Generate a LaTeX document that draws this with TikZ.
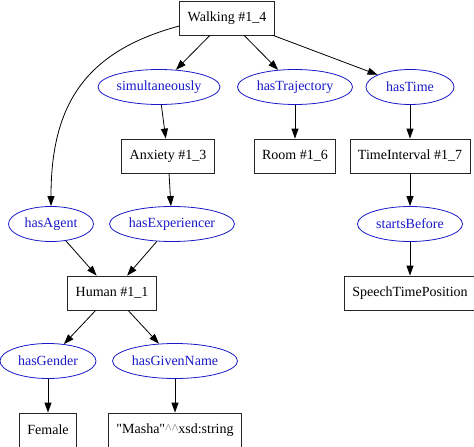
\documentclass[tikz,border=0pt]{standalone}
\usepackage{fontspec}
\setmainfont{Liberation Serif}
\usetikzlibrary{arrows.meta,shapes.geometric}
\definecolor{propblue}{RGB}{25,25,200}
\begin{document}
\begin{tikzpicture}[x=1pt,y=-1pt,line width=0.8pt,
        every node/.style={font=\rmfamily\fontsize{14}{16}\selectfont},
        cls/.style={draw=black!85,rectangle,minimum height=34pt,inner xsep=8pt},
        prop/.style={draw=propblue,text=propblue,ellipse,minimum height=35pt,inner sep=0pt},
        edge/.style={-{Triangle[length=10pt,width=7pt]},black}]
        \useasboundingbox (0,0) rectangle (474,447);
        % classes
        \node[cls] (walk) at (227,18) {Walking \#1\_4};
        \node[cls] (anx) at (168,156) {Anxiety \#1\_3};
        \node[cls] (room) at (295,156) {Room \#1\_6};
        \node[cls] (tint) at (410,156) {TimeInterval \#1\_7};
        \node[cls] (human) at (112,293) {Human \#1\_1};
        \node[cls] (speech) at (410,293) {SpeechTimePosition};
        \node[cls] (female) at (48,430) {Female};
        \node[cls] (masha) at (175,430) {\textquotedbl Masha\textquotedbl\textcolor{gray}{\textasciicircum\textasciicircum}xsd:string};
        % properties
        \node[prop,minimum width=122pt] (simul) at (159,87) {simultaneously};
        \node[prop,minimum width=115pt] (traj) at (295,87) {hasTrajectory};
        \node[prop,minimum width=88pt] (time) at (410,87) {hasTime};
        \node[prop,minimum width=85pt] (agent) at (51,224) {hasAgent};
        \node[prop,minimum width=125pt] (exper) at (172,224) {hasExperiencer};
        \node[prop,minimum width=105pt] (starts) at (410,224) {startsBefore};
        \node[prop,minimum width=96pt] (gender) at (48,361) {hasGender};
        \node[prop,minimum width=125pt] (given) at (175,361) {hasGivenName};
        % edges
        \draw[edge] ([yshift=-8pt]walk.west) to[out=195,in=90,looseness=1.15] (agent);
        \draw[edge] (walk) -- (simul);
        \draw[edge] (walk) -- (traj);
        \draw[edge] (walk) -- (time);
        \draw[edge] (simul) -- (anx);
        \draw[edge] (traj) -- (room);
        \draw[edge] (time) -- (tint);
        \draw[edge] (anx) -- (exper);
        \draw[edge] (tint) -- (starts);
        \draw[edge] (starts) -- (speech);
        \draw[edge] (agent) -- (human);
        \draw[edge] (exper) -- (human);
        \draw[edge] (human) -- (gender);
        \draw[edge] (human) -- (given);
        \draw[edge] (gender) -- (female);
        \draw[edge] (given) -- (masha);
    \end{tikzpicture}
\end{document}
